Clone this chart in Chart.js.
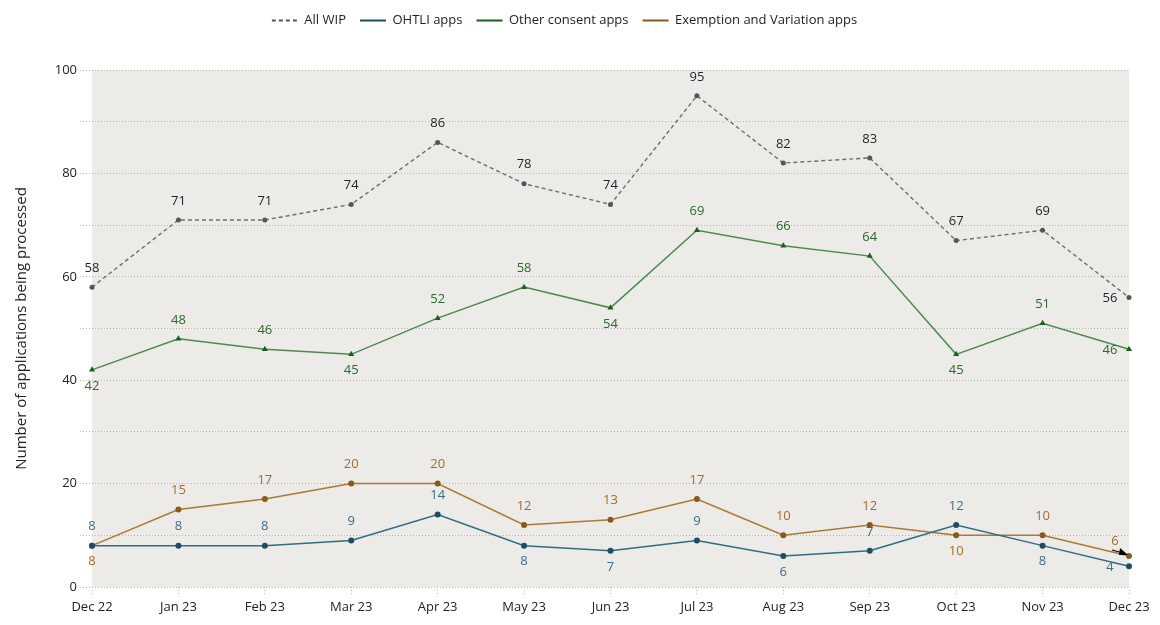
<!DOCTYPE html>
<html>
<head>
<meta charset="utf-8">
<script src="https://cdn.jsdelivr.net/npm/chart.js@4.4.0/dist/chart.umd.min.js"></script>
<style>
  html, body { margin: 0; padding: 0; background: #fff; }
  #wrap { width: 1160px; height: 625px; }
</style>
</head>
<body>
<div id="wrap"><canvas id="grafico"></canvas></div>
<script>
const meses = ['Dec 22', 'Jan 23', 'Feb 23', 'Mar 23', 'Apr 23', 'May 23', 'Jun 23',
               'Jul 23', 'Aug 23', 'Sep 23', 'Oct 23', 'Nov 23', 'Dec 23'];
const allWip    = [58, 71, 71, 74, 86, 78, 74, 95, 82, 83, 67, 69, 56];
const ohtli     = [8, 8, 8, 9, 14, 8, 7, 9, 6, 7, 12, 8, 4];
const outros    = [42, 48, 46, 45, 52, 58, 54, 69, 66, 64, 45, 51, 46];
const exemption = [8, 15, 17, 20, 20, 12, 13, 17, 10, 12, 10, 10, 6];
const yTicks = [0, 20, 40, 60, 80, 100];

// onde fica cada rótulo (t = acima, b = abaixo, l = esquerda, tl = acima/esquerda)
const posWip = ['t','t','t','t','t','t','t','t','t','t','t','t','l'];
const posOhtli = ['t','t','t','t','t','b','b','t','b','t','t','b','l'];
const posOutros = ['b','t','t','b','t','t','b','t','t','t','b','t','l'];
const posExemp = ['b','t','t','t','t','t','t','t','t','t','b','t','tl'];

const FONTE = "'Open Sans', 'Noto Sans', sans-serif";

// fundo cinza da área do gráfico
const fundoPlugin = {
  id: 'fundo',
  beforeDraw(chart) {
    const { ctx, chartArea: a } = chart;
    ctx.save();
    ctx.fillStyle = '#ecebe8';
    ctx.fillRect(a.left, a.top, a.right - a.left, a.bottom - a.top);
    ctx.restore();
  }
};

// altura fixa da legenda
const legendaPlugin = {
  id: 'legendaAltura',
  beforeInit(chart) {
    const fit = chart.legend.fit;
    chart.legend.fit = function () {
      fit.call(this);
      this.height = 70;
    };
  }
};

// rótulos dos valores
const rotulosPlugin = {
  id: 'rotulos',
  afterDatasetsDraw(chart) {
    const ctx = chart.ctx;
    ctx.save();
    ctx.font = '13px ' + FONTE;
    ctx.textBaseline = 'middle';
    chart.data.datasets.forEach((ds, i) => {
      const meta = chart.getDatasetMeta(i);
      meta.data.forEach((pt, j) => {
        const pos = ds.labelPos[j];
        let x = pt.x, y = pt.y;
        ctx.textAlign = 'center';
        if (pos === 't') y -= 19;
        else if (pos === 'b') y += 16;
        else if (pos === 'l') { x -= 19; y += 1; }
        else if (pos === 'tl') { x -= 14; y -= 15; }
        ctx.fillStyle = ds.labelColor;
        ctx.fillText(ds.data[j], x, y);
      });
    });
    // pequena seta preta perto de Dec 23
    const m = chart.getDatasetMeta(3).data[12];
    ctx.strokeStyle = '#000';
    ctx.fillStyle = '#000';
    ctx.lineWidth = 1.2;
    ctx.beginPath();
    ctx.moveTo(m.x - 17, m.y - 6);
    ctx.lineTo(m.x - 6, m.y - 3);
    ctx.stroke();
    ctx.beginPath();
    ctx.moveTo(m.x - 1, m.y - 1);
    ctx.lineTo(m.x - 9, m.y - 8);
    ctx.lineTo(m.x - 10, m.y - 1);
    ctx.closePath();
    ctx.fill();
    ctx.restore();
  }
};

const ctx = document.getElementById('grafico').getContext('2d');

new Chart(ctx, {
  type: 'line',
  data: {
    labels: meses,
    datasets: [
      {
        label: 'All WIP',
        data: allWip,
        borderColor: '#6e6e6e',
        backgroundColor: '#4a4a4a',
        borderDash: [4, 3],
        borderWidth: 1.4,
        pointRadius: 2.5,
        pointBorderWidth: 0,
        pointBackgroundColor: '#555',
        labelPos: posWip,
        labelColor: '#262626'
      },
      {
        label: 'OHTLI apps',
        data: ohtli,
        borderColor: '#2f6d85',
        backgroundColor: '#1e4d62',
        borderWidth: 1.5,
        pointRadius: 3,
        pointBorderWidth: 0,
        pointBackgroundColor: '#1e4d62',
        labelPos: posOhtli,
        labelColor: '#3a6f8c'
      },
      {
        label: 'Other consent apps',
        data: outros,
        borderColor: '#4e8a4e',
        backgroundColor: '#1d5e1d',
        borderWidth: 1.5,
        pointStyle: 'triangle',
        pointRadius: 3.5,
        pointBorderWidth: 0,
        pointBackgroundColor: '#1d5e1d',
        labelPos: posOutros,
        labelColor: '#2a6b2a'
      },
      {
        label: 'Exemption and Variation apps',
        data: exemption,
        borderColor: '#ad7833',
        backgroundColor: '#8a5a1c',
        borderWidth: 1.5,
        pointRadius: 3,
        pointBorderWidth: 0,
        pointBackgroundColor: '#8a5a1c',
        labelPos: posExemp,
        labelColor: '#a46d2a'
      }
    ]
  },
  options: {
    responsive: true,
    maintainAspectRatio: false,
    animation: false,
    layout: { padding: { top: 0, right: 31, left: 0, bottom: 0 } },
    plugins: {
      legend: {
        position: 'top',
        labels: {
          usePointStyle: true,
          pointStyle: 'line',
          pointStyleWidth: 26,
          padding: 14,
          boxHeight: 13,
          color: '#222',
          font: { family: FONTE, size: 13 },
          generateLabels(chart) {
            return chart.data.datasets.map((ds, i) => ({
              text: ds.label,
              strokeStyle: ds.pointBackgroundColor,
              fillStyle: ds.pointBackgroundColor,
              lineWidth: 2,
              lineDash: ds.borderDash || [],
              pointStyle: 'line',
              datasetIndex: i,
              fontColor: '#222'
            }));
          }
        }
      },
      tooltip: { enabled: false }
    },
    scales: {
      x: {
        offset: false,
        grid: {
          drawOnChartArea: false,
          drawTicks: true,
          tickLength: 9,
          color: '#b5b5b5',
          tickBorderDash: [1, 2]
        },
        border: { display: false },
        ticks: {
          color: '#222',
          padding: 3,
          maxRotation: 0,
          autoSkip: false,
          font: { family: FONTE, size: 13 }
        },
        afterFit(scale) { scale.height = 38; }
      },
      y: {
        min: 0,
        max: 100,
        grid: {
          color: '#b5b5b5',
          tickLength: 12,
          tickBorderDash: [1, 2]
        },
        border: { display: false, dash: [1, 2] },
        ticks: {
          stepSize: 10,
          color: '#222',
          padding: 3,
          font: { family: FONTE, size: 13 },
          callback: (v) => yTicks.includes(v) ? v : ''
        },
        title: {
          display: true,
          text: 'Number of applications being processed',
          color: '#222',
          padding: { top: 13, bottom: 0 },
          font: { family: FONTE, size: 15 }
        },
        afterFit(scale) { scale.width = 92; }
      }
    }
  },
  plugins: [fundoPlugin, legendaPlugin, rotulosPlugin]
});
</script>
</body>
</html>
